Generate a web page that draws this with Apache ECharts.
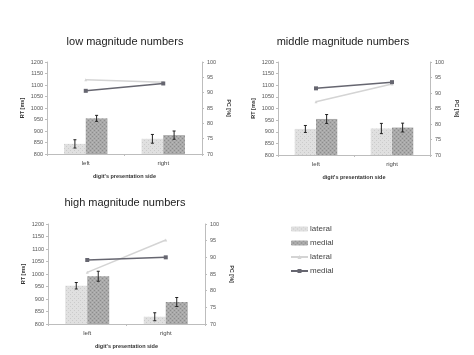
<!DOCTYPE html>
<html>
<head>
<meta charset="utf-8">
<script src="https://cdn.jsdelivr.net/npm/echarts@6/dist/echarts.min.js"></script>
<style>
html,body{margin:0;padding:0;background:#fff;}
#main{width:474px;height:355px;}
</style>
</head>
<body>
<div id="main"></div>
<script>
// ---- data ----
const categories = ['left', 'right'];
const panelTitles = ['low magnitude numbers', 'middle magnitude numbers', 'high magnitude numbers'];
const rtTicksMinMax = [800, 1200, 50];
const pcTicksMinMax = [70, 100, 5];

const lowRtLateral = [844, 866];
const lowRtMedial = [955, 882];
const lowErrLateral = [18, 19];
const lowErrMedial = [13, 18];
const lowPcLateral = [94.2, 93.4];
const lowPcMedial = [90.6, 93.0];

const midRtLateral = [912, 914];
const midRtMedial = [955, 918];
const midErrLateral = [15, 22];
const midErrMedial = [19, 19];
const midPcLateral = [87.2, 92.9];
const midPcMedial = [91.5, 93.5];

const highRtLateral = [953, 829];
const highRtMedial = [991, 888];
const highErrLateral = [13, 16];
const highErrMedial = [20, 18];
const highPcLateral = [85.5, 95.2];
const highPcMedial = [89.2, 90.0];

// ---- patterns ----
function makePattern(bg, dots) {
  const c = document.createElement('canvas');
  c.width = 4; c.height = 4;
  const ctx = c.getContext('2d');
  ctx.fillStyle = bg; ctx.fillRect(0, 0, 4, 4);
  dots.forEach(d => { ctx.fillStyle = d[2]; ctx.fillRect(d[0], d[1], 1, 1); });
  return { image: c, repeat: 'repeat' };
}
const lateralFill = makePattern('#e0e0e0', [[0,0,'#cbcbcb'],[2,2,'#cbcbcb']]);
const medialFill = makePattern('#a9a9a9', [[0,0,'#8c8c8c'],[2,2,'#8c8c8c'],[2,0,'#b8b8b8'],[0,2,'#b8b8b8']]);

const panels = [
  { rtL: lowRtLateral, rtM: lowRtMedial, eL: lowErrLateral, eM: lowErrMedial, pL: lowPcLateral, pM: lowPcMedial,
    grid: { left: 47, top: 62, width: 155, height: 92 }, title: [125, 36] },
  { rtL: midRtLateral, rtM: midRtMedial, eL: midErrLateral, eM: midErrMedial, pL: midPcLateral, pM: midPcMedial,
    grid: { left: 278, top: 62, width: 152, height: 93 }, title: [343, 36] },
  { rtL: highRtLateral, rtM: highRtMedial, eL: highErrLateral, eM: highErrMedial, pL: highPcLateral, pM: highPcMedial,
    grid: { left: 48, top: 224, width: 157, height: 100 }, title: [125, 197] }
];

const FONT = 'Liberation Sans';
const axisLineStyle = { color: '#bdbdbd', width: 1 };
const gap = 0.44;
const plainNum = v => String(v);

const grids = [], xAxes = [], yAxes = [], series = [], titles = [];
panels.forEach((p, i) => {
  grids.push(p.grid);
  titles.push({ text: panelTitles[i], left: p.title[0], top: p.title[1], textAlign: 'center', padding: 0,
    textStyle: { fontFamily: FONT, fontSize: 11, fontWeight: 'normal', color: '#222' } });
  xAxes.push({
    type: 'category', gridIndex: i, data: categories,
    name: "digit's presentation side", nameLocation: 'middle', nameGap: 19,
    nameTextStyle: { fontFamily: FONT, fontSize: 5.5, fontWeight: 'bold', color: '#333' },
    axisLine: { lineStyle: axisLineStyle }, axisTick: { show: true, length: 2, lineStyle: axisLineStyle },
    axisLabel: { fontFamily: FONT, fontSize: 6, color: '#444', margin: 6 }
  });
  yAxes.push({
    type: 'value', gridIndex: i, min: rtTicksMinMax[0], max: rtTicksMinMax[1], interval: rtTicksMinMax[2],
    name: 'RT [ms]', nameLocation: 'middle', nameGap: 22, nameRotate: 90,
    nameTextStyle: { fontFamily: FONT, fontSize: 5.5, fontWeight: 'bold', color: '#333' },
    axisLine: { show: true, lineStyle: axisLineStyle }, axisTick: { show: true, length: 2, lineStyle: axisLineStyle },
    splitLine: { show: false },
    axisLabel: { fontFamily: FONT, fontSize: 5.5, color: '#555', margin: 4, formatter: plainNum }
  });
  yAxes.push({
    type: 'value', gridIndex: i, position: 'right', min: pcTicksMinMax[0], max: pcTicksMinMax[1], interval: pcTicksMinMax[2],
    name: 'PC [%]', nameLocation: 'middle', nameGap: 24, nameRotate: -90,
    nameTextStyle: { fontFamily: FONT, fontSize: 5.5, fontWeight: 'bold', color: '#333' },
    axisLine: { show: true, lineStyle: axisLineStyle }, axisTick: { show: true, length: 2, lineStyle: axisLineStyle },
    splitLine: { show: false },
    axisLabel: { fontFamily: FONT, fontSize: 5.5, color: '#555', margin: 5, formatter: plainNum }
  });
  const xi = i, yl = i * 2, yr = i * 2 + 1;
  series.push({
    name: 'lateral', type: 'bar', xAxisIndex: xi, yAxisIndex: yl, data: p.rtL,
    barGap: 0, barCategoryGap: (gap * 100) + '%', itemStyle: { color: lateralFill }
  });
  series.push({
    name: 'medial', type: 'bar', xAxisIndex: xi, yAxisIndex: yl, data: p.rtM,
    barGap: 0, barCategoryGap: (gap * 100) + '%', itemStyle: { color: medialFill }
  });
  const errData = [];
  p.rtL.forEach((v, k) => errData.push([k, v, p.eL[k], -1]));
  p.rtM.forEach((v, k) => errData.push([k, v, p.eM[k], 1]));
  series.push({
    type: 'custom', xAxisIndex: xi, yAxisIndex: yl, data: errData, z: 5, silent: true,
    renderItem: function (params, api) {
      const k = api.value(0), v = api.value(1), e = api.value(2), side = api.value(3);
      const c = api.coord([k, v]);
      const band = api.size([1, 0])[0];
      const bw = band * (1 - gap) / 2;
      const x = c[0] + side * bw / 2;
      const yt = api.coord([k, v + e])[1];
      const yb = api.coord([k, v - e])[1];
      const st = { stroke: '#222', lineWidth: 1 };
      return { type: 'group', children: [
        { type: 'line', shape: { x1: x, y1: yt, x2: x, y2: yb }, style: st },
        { type: 'line', shape: { x1: x - 1.5, y1: yt, x2: x + 1.5, y2: yt }, style: st },
        { type: 'line', shape: { x1: x - 1.5, y1: yb, x2: x + 1.5, y2: yb }, style: st }
      ] };
    }
  });
  series.push({
    name: 'lateral ', type: 'line', xAxisIndex: xi, yAxisIndex: yr, data: p.pL, z: 4,
    symbol: 'triangle', symbolSize: 3, showSymbol: true,
    lineStyle: { color: '#d4d4d4', width: 1.5 }, itemStyle: { color: '#d4d4d4' }
  });
  series.push({
    name: 'medial ', type: 'line', xAxisIndex: xi, yAxisIndex: yr, data: p.pM, z: 4,
    symbol: 'rect', symbolSize: 4,
    lineStyle: { color: '#666670', width: 1.5 }, itemStyle: { color: '#666670' }
  });
});

const chart = echarts.init(document.getElementById('main'), null, { renderer: 'canvas' });
chart.setOption({
  backgroundColor: '#fff',
  animation: false,
  title: titles,
  grid: grids,
  xAxis: xAxes,
  yAxis: yAxes,
  legend: {
    data: ['lateral', 'medial', 'lateral ', 'medial '],
    orient: 'vertical', left: 285, top: 220, itemGap: 6, itemWidth: 17, itemHeight: 5,
    selectedMode: false,
    textStyle: { fontFamily: FONT, fontSize: 8, color: '#444', padding: [0, 0, 0, -3] }
  },
  series: series
});
</script>
</body>
</html>
